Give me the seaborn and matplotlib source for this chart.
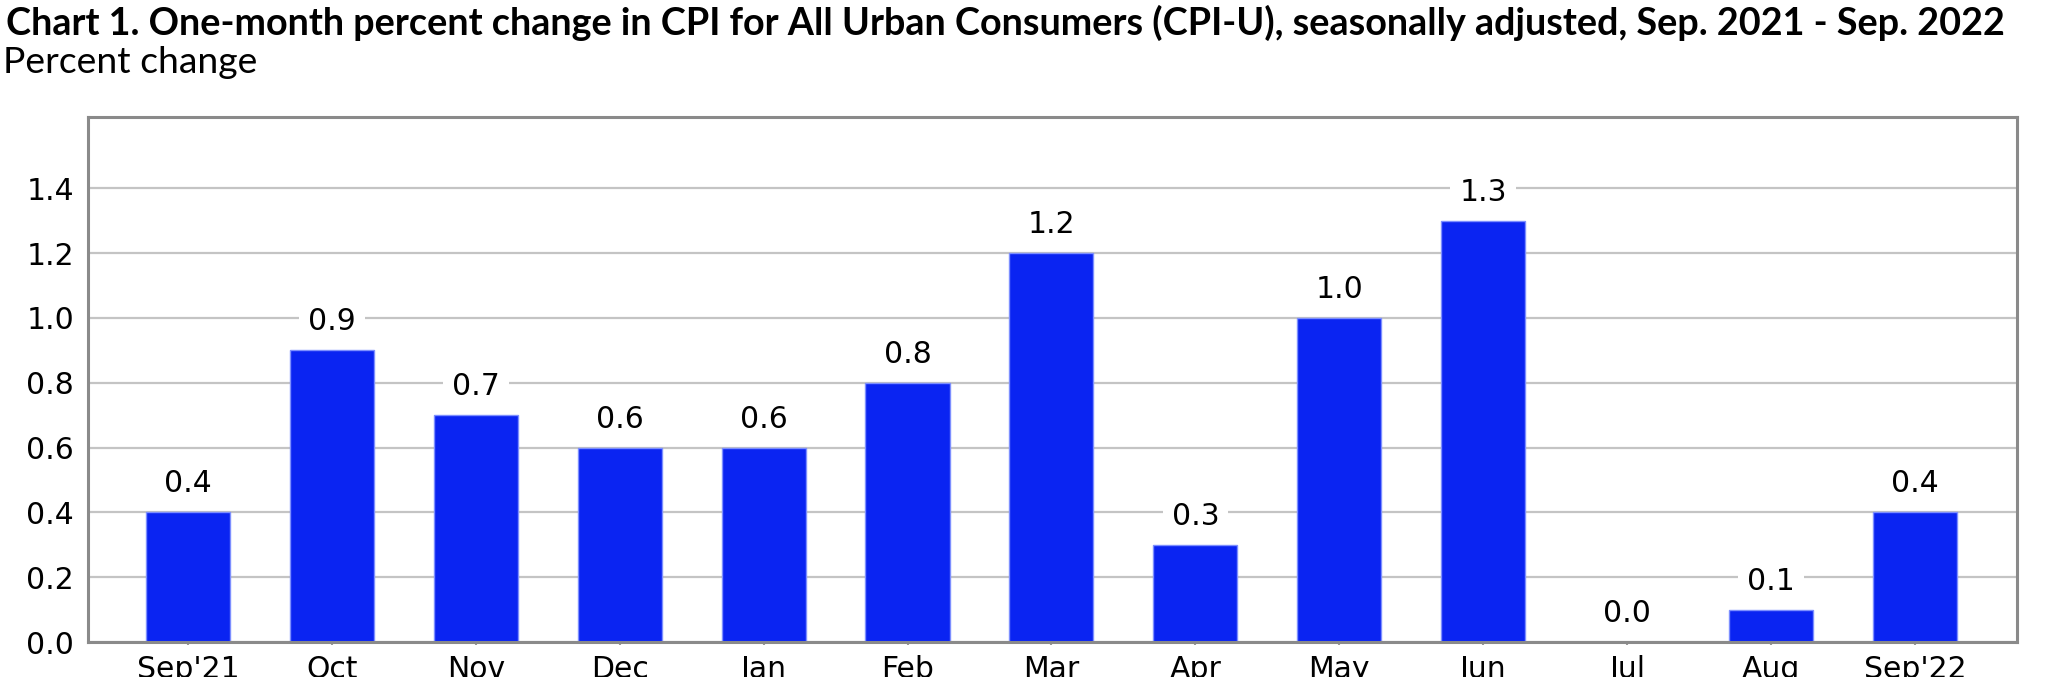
import matplotlib
matplotlib.use("Agg")
import matplotlib.pyplot as plt
import seaborn as sns
import pandas as pd

months = ["Sep'21", "Oct", "Nov", "Dec", "Jan", "Feb", "Mar", "Apr",
          "May", "Jun", "Jul", "Aug", "Sep'22"]
values = [0.4, 0.9, 0.7, 0.6, 0.6, 0.8, 1.2, 0.3, 1.0, 1.3, 0.0, 0.1, 0.4]
y_ticks = [0.0, 0.2, 0.4, 0.6, 0.8, 1.0, 1.2, 1.4]
title = ("Chart 1. One-month percent change in CPI for All Urban Consumers "
         "(CPI-U), seasonally adjusted, Sep. 2021 - Sep. 2022")
subtitle = "Percent change"

sns.set_style("white")
plt.rcParams['font.family'] = ['DejaVu Sans']

W, H = 2048, 677
fig = plt.figure(figsize=(W / 100, H / 100), dpi=100)
ax = fig.add_axes([88 / W, 35 / H, (2017 - 88) / W, (642 - 117) / H])

df = pd.DataFrame({"month": months, "value": values})
sns.barplot(data=df, x="month", y="value", color="#0A24F2", saturation=1,
            width=0.584, edgecolor="#7d8fff", linewidth=1, ax=ax)

ax.set_xlim(-0.695, 12.71)
ax.set_ylim(0, 1.62)
ax.set_yticks(y_ticks)
ax.set_yticklabels([f"{v:.1f}" for v in y_ticks])
ax.yaxis.grid(True, color="#c4c4c4", linewidth=1.6)
ax.xaxis.grid(False)
ax.set_axisbelow(True)
for s in ax.spines.values():
    s.set_visible(True)
    s.set_color("#8a8a8a")
    s.set_linewidth(2.2)
ax.tick_params(axis='y', length=0, pad=10, labelsize=21.5, labelcolor='black')
ax.tick_params(axis='x', length=2.5, width=1.5, color='#999999', pad=7,
               labelsize=21.5, labelcolor='black', bottom=True)
ax.set_xlabel("")
ax.set_ylabel("")

for i, v in enumerate(values):
    ax.annotate(f"{v:.1f}", xy=(i, v), xytext=(0, 14.4),
                textcoords="offset points", ha="center", va="baseline",
                fontsize=21.5, color="black",
                bbox=dict(boxstyle="square,pad=0.3", fc="white", ec="none"),
                zorder=5)

renderer = fig.canvas.get_renderer()


def fit_text(x, y, s, target_w, weight, fam, size0):
    t = fig.text(x / W, 1 - y / H, s, ha="left", va="baseline",
                 fontsize=size0, fontweight=weight, family=fam, color="black")
    w = t.get_window_extent(renderer=renderer).width
    t.set_fontsize(size0 * target_w / w)
    return t


fit_text(6, 35, title, 1999, "bold", ["Lato", "DejaVu Sans"], 26)
fit_text(3, 73, subtitle, 254, "normal", ["Lato", "DejaVu Sans"], 26)

fig.savefig("out.png", dpi=100)
